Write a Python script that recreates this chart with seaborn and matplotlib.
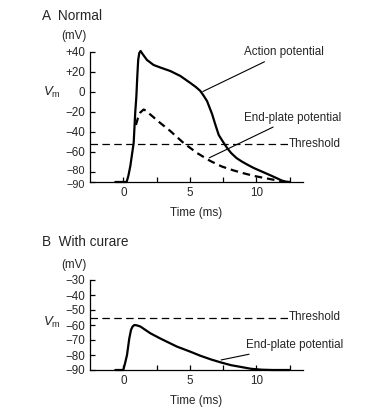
import matplotlib
matplotlib.use("Agg")
import matplotlib.pyplot as plt
import matplotlib.transforms as mtransforms
import pandas as pd
import seaborn as sns

# panel A, action potential (time ms, Vm mV)
ap_time = [-0.6, 0.25, 0.38, 0.53, 0.66, 0.78, 0.9, 0.98, 1.05, 1.12, 1.2, 1.3, 1.45,
           1.78, 2.28, 2.78, 3.53, 4.29, 5.04, 5.45, 5.79, 6.05, 6.29, 6.67, 6.9, 7.17,
           7.5, 7.8, 8.1, 8.5, 8.9, 9.3, 9.8, 10.4, 11.0, 11.5, 11.9, 12.2, 12.5]
ap_vm = [-90, -90, -84, -74, -62, -51, -20, -5, 15, 32, 39, 41, 38,
         32, 27, 24.5, 21, 16, 9, 5, 1, -4, -9, -22, -32, -43,
         -50, -56, -61, -66, -69.5, -72.5, -76, -79.5, -83, -86, -88.5, -89.6, -90]

# panel A, end-plate potential (dashed)
epp_a_time = [0.95, 1.1, 1.28, 1.53, 1.75, 2.03, 2.78, 3.53, 4.53, 5.54, 6.54, 7.4,
              8.3, 9.1, 9.85, 10.6, 11.4, 12.0]
epp_a_vm = [-33, -26, -20.5, -17.5, -19, -22.5, -31, -39, -51, -61, -69, -74.5,
            -78.5, -81.5, -84, -86, -88, -89.5]

# panel B, end-plate potential with curare
epp_b_time = [-0.6, 0.0, 0.12, 0.28, 0.45, 0.58, 0.7, 0.83, 1.0, 1.28, 2.03, 2.78,
              4.03, 5.04, 5.79, 6.6, 7.35, 8.1, 8.86, 9.6, 10.4, 11.2, 12.5]
epp_b_vm = [-90, -90, -86, -80, -69, -63.3, -61, -60, -60.2, -61, -65.5, -69,
            -74.4, -77.8, -80.5, -83, -85, -86.8, -88, -89.2, -89.8, -90, -90]

threshold_a = -52
threshold_b = -55

ticks_a = [40, 20, 0, -20, -40, -60, -80, -90]
ticks_b = [-30, -40, -50, -60, -70, -80, -90]
time_ticks = [0, 2.5, 5, 7.5, 10, 12.5]
time_labels = ["0", "", "5", "", "10", ""]

sns.set_theme(style="ticks")
plt.rcParams["font.family"] = ["Liberation Sans", "DejaVu Sans"]
plt.rcParams["mathtext.fontset"] = "custom"
plt.rcParams["mathtext.rm"] = "Liberation Sans"
plt.rcParams["mathtext.it"] = "Liberation Sans:italic"

FS = 8.4


def mv_label(v):
    if v > 0:
        return f"+{v}"
    if v < 0:
        return f"\u2212{abs(v)}"
    return "0"


def style_axis(ax, yticks, ylim):
    ax.set_xlim(-2.5, 13.5)
    ax.set_ylim(*ylim)
    ax.set_xticks(time_ticks)
    ax.set_xticklabels(time_labels)
    ax.set_yticks(yticks)
    ax.set_yticklabels([mv_label(v) for v in yticks])
    ax.tick_params(direction="in", length=3.5, width=0.9, labelsize=FS, color="black")
    ax.tick_params(axis="y", pad=3.5)
    ax.tick_params(axis="x", pad=3.5)
    for s in ["top", "right"]:
        ax.spines[s].set_visible(False)
    for s in ["left", "bottom"]:
        ax.spines[s].set_linewidth(0.9)
        ax.spines[s].set_color("black")
    ax.set_xlabel("Time (ms)", fontsize=FS, labelpad=6)
    ax.set_ylabel("")


W, H = 385, 418
fig = plt.figure(figsize=(W / 100, H / 100), dpi=100)
fig.patch.set_facecolor("white")

ax_a = fig.add_axes([90 / W, 1 - 182 / H, 213 / W, 130 / H])
ax_b = fig.add_axes([90 / W, 1 - 370 / H, 213 / W, 90 / H])

ap = pd.DataFrame({"time": ap_time, "vm": ap_vm})
epp_a = pd.DataFrame({"time": epp_a_time, "vm": epp_a_vm})
epp_b = pd.DataFrame({"time": epp_b_time, "vm": epp_b_vm})

arrow = dict(arrowstyle="-", lw=0.8, color="black", shrinkA=0, shrinkB=0)

# panel A
ax_a.plot([-2.5, 12.4], [threshold_a, threshold_a], color="black", lw=0.9,
          dashes=(6, 3.5), clip_on=False)
sns.lineplot(data=ap, x="time", y="vm", ax=ax_a, color="black", lw=1.6,
             estimator=None, sort=False)
sns.lineplot(data=epp_a, x="time", y="vm", ax=ax_a, color="black", lw=1.6,
             estimator=None, sort=False)
ax_a.lines[-1].set_dashes((3.4, 2.2))
for ln in ax_a.lines:
    ln.set_clip_on(False)
    ln.set_solid_joinstyle("round")
    ln.set_dash_joinstyle("round")
style_axis(ax_a, ticks_a, (-90, 40))

ax_a.annotate("Action potential", xy=(5.98, 0.5), xytext=(9.05, 39.5), fontsize=FS,
              va="center", ha="left", arrowprops=arrow)
ax_a.annotate("End-plate potential", xy=(6.46, -65.8), xytext=(9.05, -25.8), fontsize=FS,
              va="center", ha="left", arrowprops=arrow)
ax_a.text(12.45, threshold_a, "Threshold", fontsize=FS, va="center", ha="left")

# the -80 / -90 labels sit only 10 mV apart: smaller and pushed apart a little
for lbl in ax_a.get_yticklabels():
    if lbl.get_text() in ("\u221280", "\u221290"):
        lbl.set_fontsize(7.8)
        dy = 1.5 if lbl.get_text() == "\u221280" else -1.5
        lbl.set_transform(lbl.get_transform()
                          + mtransforms.ScaledTranslation(0, dy / 100, fig.dpi_scale_trans))

# panel B
ax_b.plot([-2.5, 12.4], [threshold_b, threshold_b], color="black", lw=0.9,
          dashes=(6, 3.5), clip_on=False)
sns.lineplot(data=epp_b, x="time", y="vm", ax=ax_b, color="black", lw=1.6,
             estimator=None, sort=False)
for ln in ax_b.lines:
    ln.set_clip_on(False)
    ln.set_solid_joinstyle("round")
style_axis(ax_b, ticks_b, (-90, -30))

ax_b.annotate("End-plate potential", xy=(7.35, -83.3), xytext=(9.2, -73.3), fontsize=FS,
              va="center", ha="left", arrowprops=arrow)
ax_b.text(12.45, threshold_b, "Threshold", fontsize=FS, va="center", ha="left")

# panel titles and axis captions
fig.text(42 / W, 1 - 16 / H, "A  Normal", fontsize=9.8, va="center", ha="left")
fig.text(42 / W, 1 - 242 / H, "B  With curare", fontsize=9.8, va="center", ha="left")
fig.text(61 / W, 1 - 36 / H, "(mV)", fontsize=FS, va="center", ha="left")
fig.text(61 / W, 1 - 265 / H, "(mV)", fontsize=FS, va="center", ha="left")
fig.text(43 / W, 1 - 92 / H, r"$V_\mathrm{m}$", fontsize=9.5, va="center", ha="left")
fig.text(43 / W, 1 - 322 / H, r"$V_\mathrm{m}$", fontsize=9.5, va="center", ha="left")

fig.savefig("out.png", dpi=100, facecolor="white")
